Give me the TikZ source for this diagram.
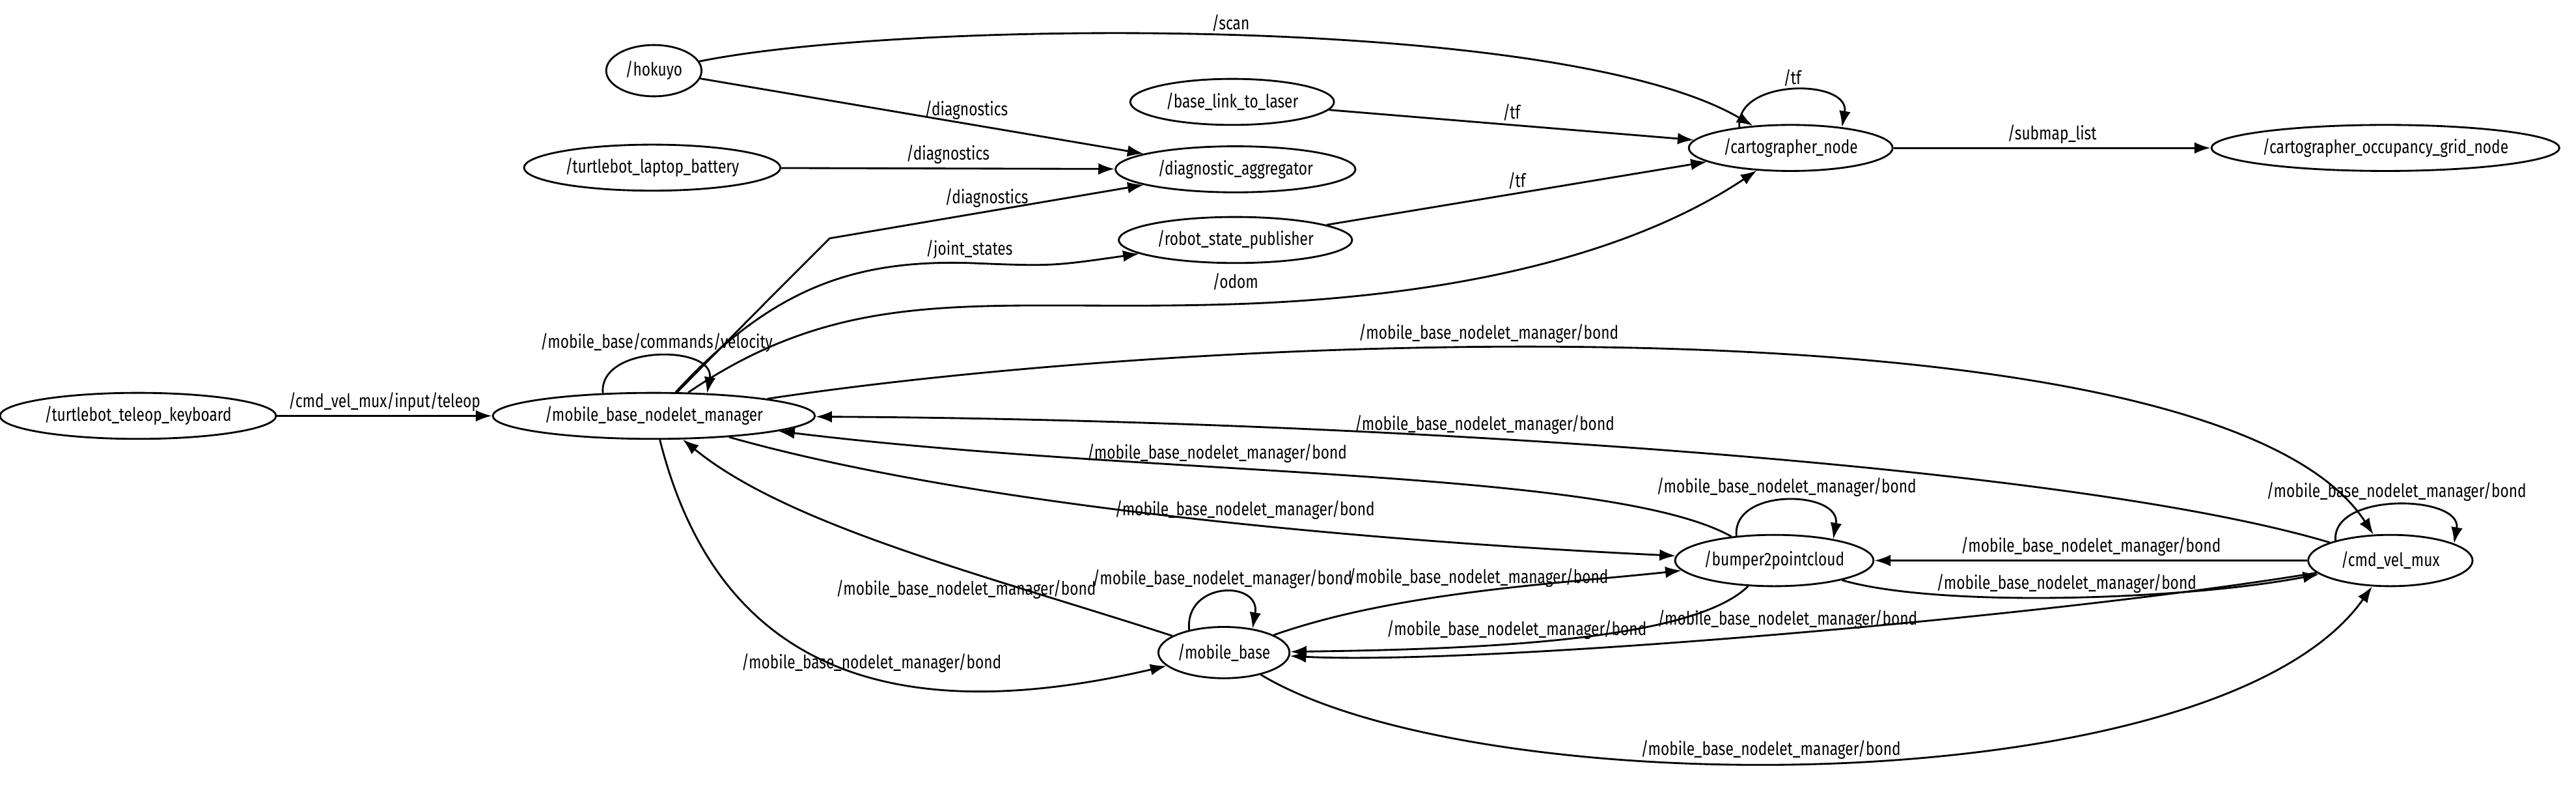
\documentclass[tikz,border=0pt]{standalone}
\usepackage{fontspec}
\setmainfont{Fira Sans}[FakeStretch=0.8]
\usetikzlibrary{arrows.meta,shapes.geometric}
\tikzset{
    vertex/.style={ellipse,draw,line width=0.8pt,minimum height=0.7cm,inner sep=0pt,font=\fontsize{8}{9}\selectfont},
    edge/.style={-{Latex[length=7pt,width=5pt]},line width=0.8pt},
    lbl/.style={font=\fontsize{8}{9}\selectfont,inner sep=1.5pt}
}

\begin{document}
\begin{tikzpicture}[x=0.025cm,y=-0.025cm]
\useasboundingbox (0,0) rectangle (1568,492);
\node[vertex,minimum width=1.45cm,minimum height=0.78cm] (hok) at (398,43) {/hokuyo};
\node[vertex,minimum width=3.9cm] (bat) at (397,102) {/turtlebot\_laptop\_battery};
\node[vertex,minimum width=3.1cm] (bl) at (750,62) {/base\_link\_to\_laser};
\node[vertex,minimum width=3.65cm] (diag) at (752,103) {/diagnostic\_aggregator};
\node[vertex,minimum width=3.55cm] (rsp) at (752,146) {/robot\_state\_publisher};
\node[vertex,minimum width=3.1cm] (carto) at (1090,90) {/cartographer\_node};
\node[vertex,minimum width=5.25cm] (occ) at (1452,90) {/cartographer\_occupancy\_grid\_node};
\node[vertex,minimum width=4.2cm] (tele) at (84,253) {/turtlebot\_teleop\_keyboard};
\node[vertex,minimum width=4.9cm] (mgr) at (398,253) {/mobile\_base\_nodelet\_manager};
\node[vertex,minimum width=3.0cm,minimum height=0.78cm] (bump) at (1080,341) {/bumper2pointcloud};
\node[vertex,minimum width=2.5cm,minimum height=0.78cm] (mux) at (1455,341) {/cmd\_vel\_mux};
\node[vertex,minimum width=1.9cm,minimum height=0.78cm] (mb) at (745,397) {/mobile\_base};

\draw[edge] (hok) .. controls (550,12) and (950,8) .. node[lbl,above] {/scan} (carto);
\draw[edge] (hok) -- node[lbl,above,pos=0.6] {/diagnostics} (diag);
\draw[edge] (bat) -- node[lbl,above] {/diagnostics} (diag);
\draw[edge] (mgr) .. controls (460,190) .. (505,145) -- node[lbl,above] {/diagnostics} (diag);
\draw[edge] (mgr) .. controls (470,175) and (520,158) .. (590,160) node[lbl,above] {/joint\_states} .. controls (640,162) .. (rsp);
\draw[edge] (mgr) .. controls (520,170) and (600,190) .. (752,185) node[lbl,above=4pt] {/odom} .. controls (900,180) and (1000,150) .. (carto);
\draw[edge] (bl) -- node[lbl,above] {/tf} (carto);
\draw[edge] (rsp) -- node[lbl,above] {/tf} (carto);
\draw[edge] (carto.158) .. controls +(95:0.75cm) and +(80:0.75cm) .. node[lbl,above] {/tf} (carto.22);
\draw[edge] (carto) -- node[lbl,above] {/submap\_list} (occ);
\draw[edge] (tele) -- node[lbl,above] {/cmd\_vel\_mux/input/teleop} (mgr);
\draw[edge] (mgr.156) .. controls +(95:0.75cm) and +(80:0.75cm) .. node[lbl,above] {/mobile\_base/commands/velocity} (mgr.23);

\draw[edge] (mgr) .. controls (750,200) and (1350,180) .. node[lbl,above,pos=0.4] {/mobile\_base\_nodelet\_manager/bond} (mux);
\draw[edge] (mux) .. controls (1250,280) and (800,255) .. node[lbl,above,pos=0.6] {/mobile\_base\_nodelet\_manager/bond} (mgr);
\draw[edge] (bump) .. controls (980,285) and (700,290) .. node[lbl,above,pos=0.62] {/mobile\_base\_nodelet\_manager/bond} (mgr);
\draw[edge] (mgr) .. controls (600,310) and (850,330) .. node[lbl,above,pos=0.55] {/mobile\_base\_nodelet\_manager/bond} (bump);
\draw[edge] (mb) .. controls (600,350) and (480,320) .. node[lbl,below=2pt,pos=0.37] {/mobile\_base\_nodelet\_manager/bond} (mgr);
\draw[edge] (mgr) .. controls (440,420) and (560,440) .. node[lbl,above,pos=0.55] {/mobile\_base\_nodelet\_manager/bond} (mb);
\draw[edge] (mb.147) .. controls +(95:0.75cm) and +(80:0.75cm) .. node[lbl,above] {/mobile\_base\_nodelet\_manager/bond} (mb.40);
\draw[edge] (mb) .. controls (850,360) and (950,355) .. node[lbl,above] {/mobile\_base\_nodelet\_manager/bond} (bump);
\draw[edge] (bump) .. controls (1030,390) and (900,395) .. node[lbl,above,pos=0.6] {/mobile\_base\_nodelet\_manager/bond} (mb);
\draw[edge] (bump.147) .. controls +(95:0.75cm) and +(80:0.75cm) .. node[lbl,above] {/mobile\_base\_nodelet\_manager/bond} (bump.20);
\draw[edge] (mux) -- node[lbl,above] {/mobile\_base\_nodelet\_manager/bond} (bump);
\draw[edge] (bump) .. controls (1180,370) and (1330,365) .. node[lbl,above] {/mobile\_base\_nodelet\_manager/bond} (mux);
\draw[edge] (mux) .. controls (1250,375) and (900,405) .. node[lbl,above,pos=0.49] {/mobile\_base\_nodelet\_manager/bond} (mb);
\draw[edge] (mb) .. controls (900,490) and (1350,490) .. node[lbl,above,pos=0.45] {/mobile\_base\_nodelet\_manager/bond} (mux);
\draw[edge] (mux.160) .. controls +(95:0.75cm) and +(80:0.75cm) .. node[lbl,above] {/mobile\_base\_nodelet\_manager/bond} (mux.15);
\end{tikzpicture}
\end{document}
